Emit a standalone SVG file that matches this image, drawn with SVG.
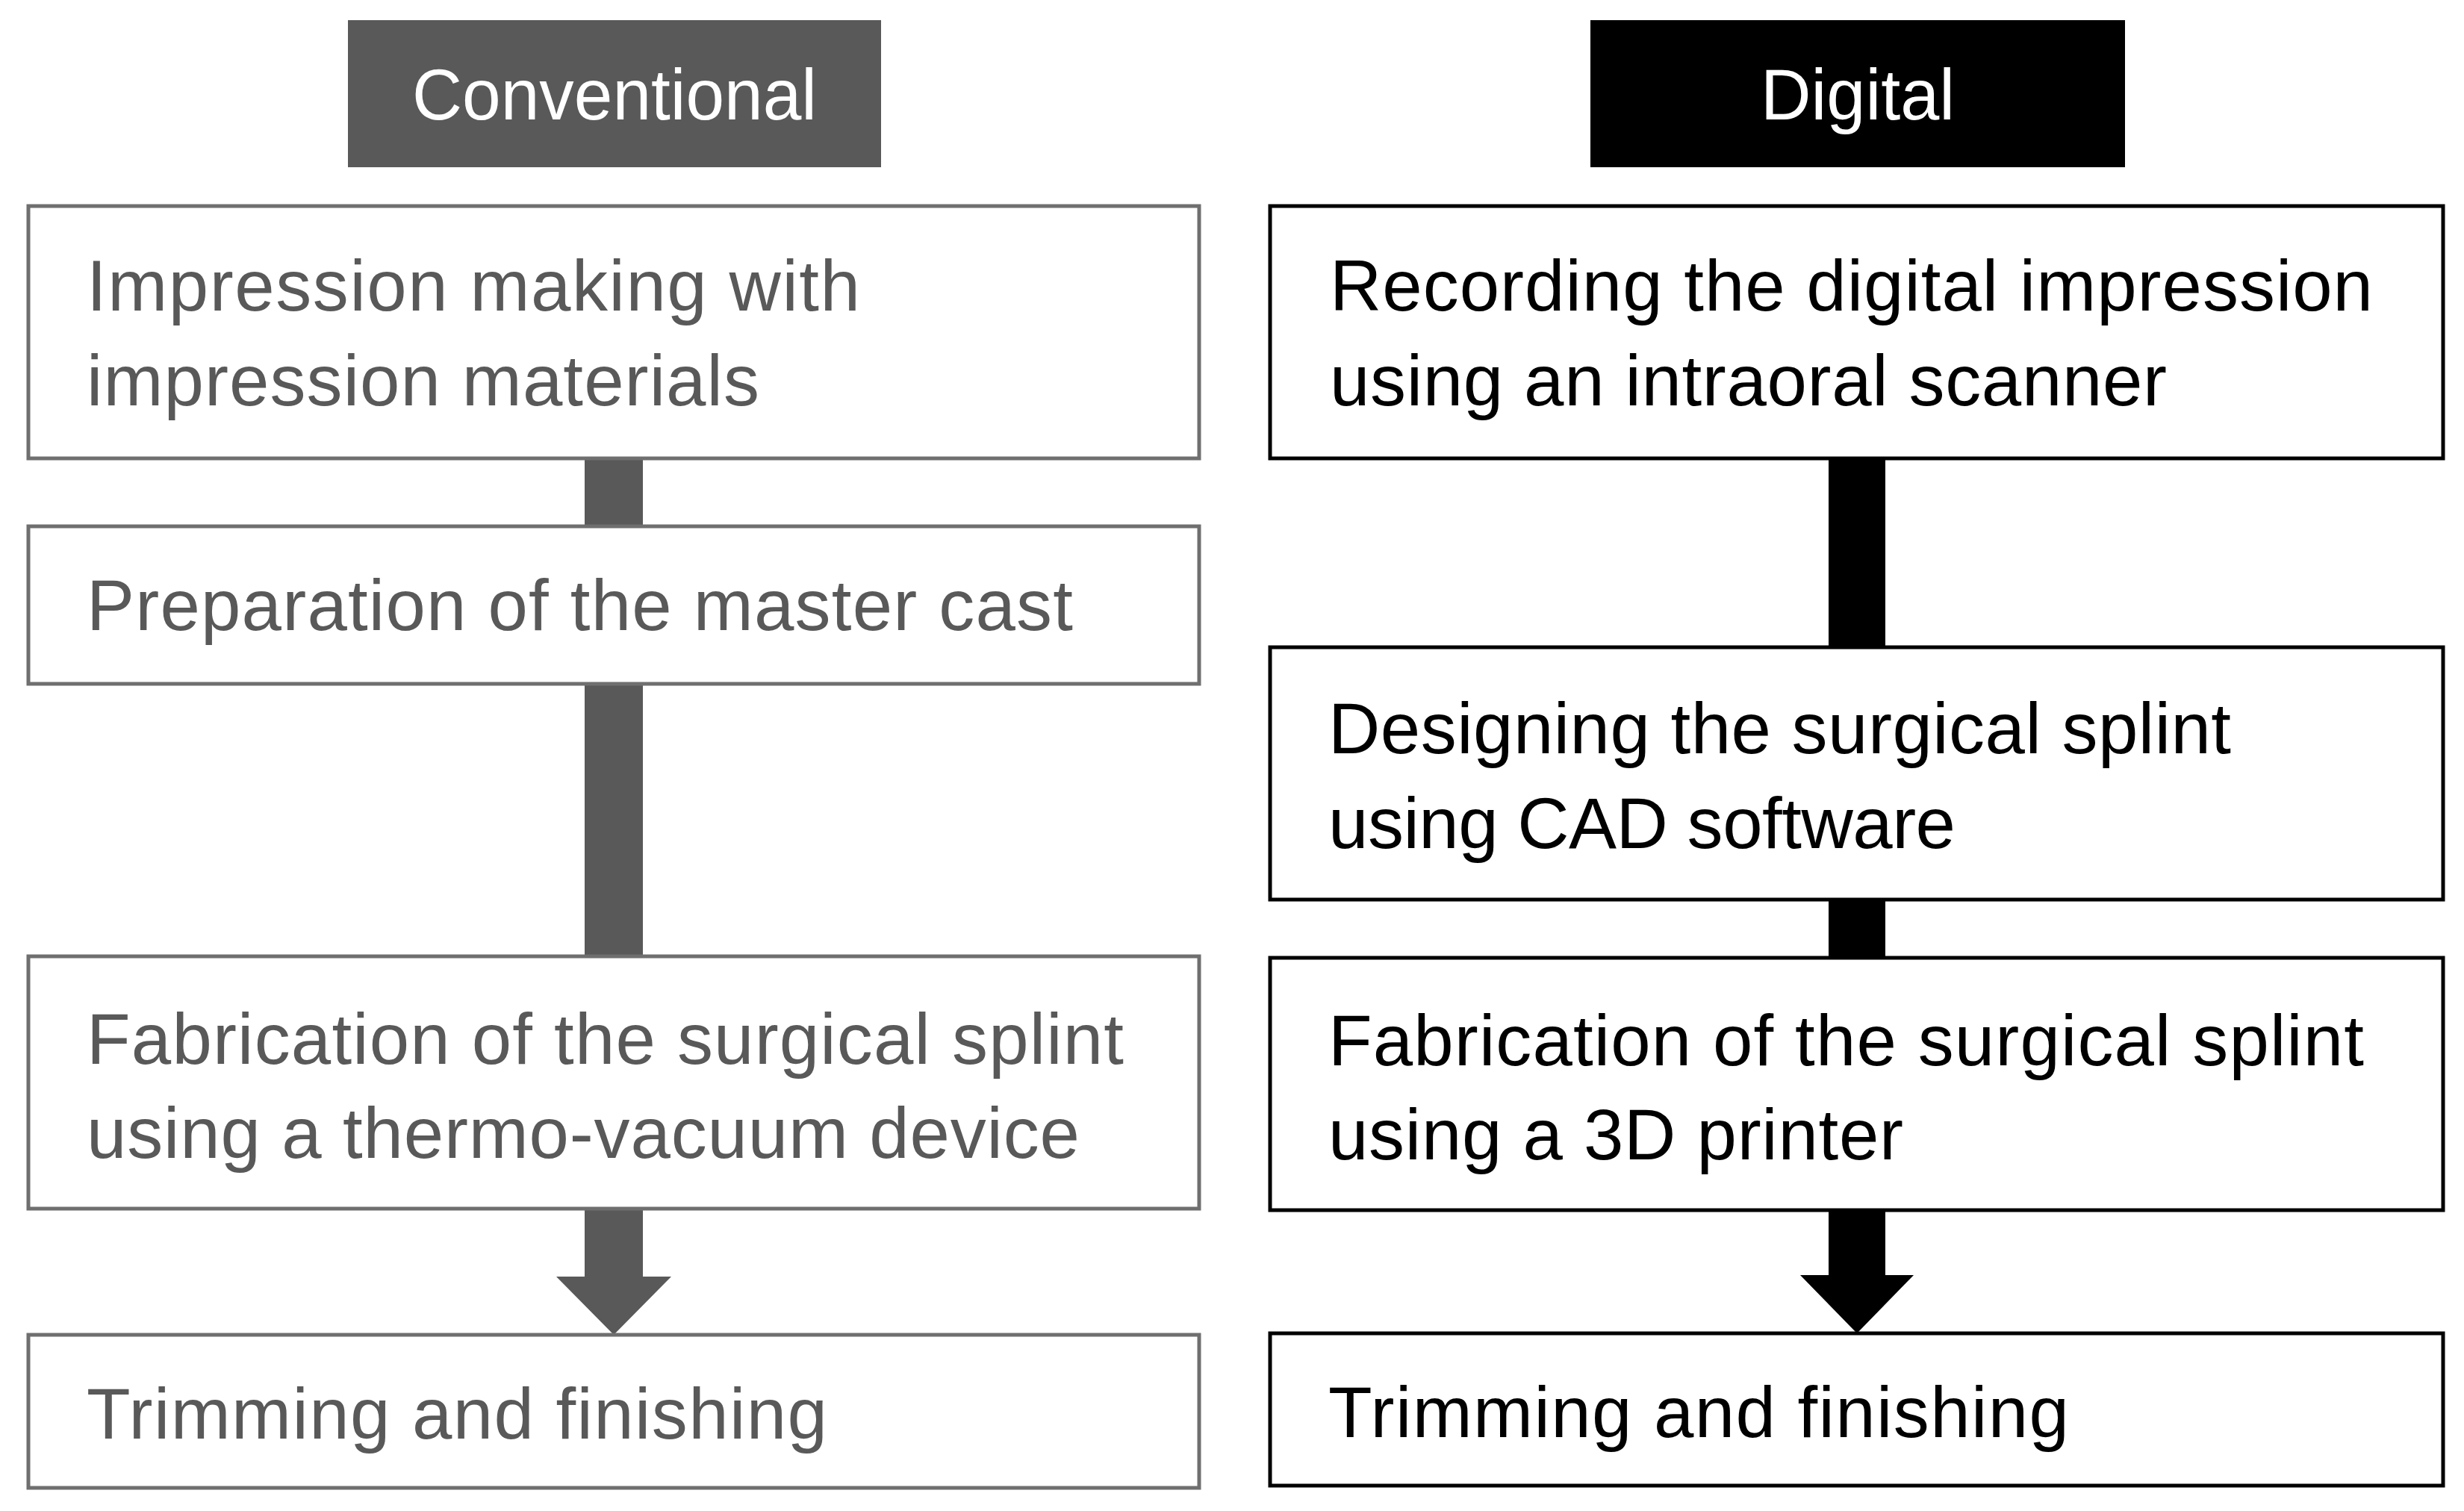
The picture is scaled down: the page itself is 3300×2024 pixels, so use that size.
<svg xmlns="http://www.w3.org/2000/svg" width="3300" height="2024" viewBox="0 0 3300 2024">
<style>
text{font-family:"Liberation Sans",Arial,sans-serif;font-size:96px}
.lb{fill:#fff;stroke:#6f6f6f;stroke-width:5}
.rb{fill:#fff;stroke:#000;stroke-width:5}
.lt{fill:#595959}
.rt{fill:#000}
.h{fill:#fff;text-anchor:middle}
</style>
<rect width="3300" height="2024" fill="#fff"/>
<g id="connectors">
<rect x="783" y="614" width="78" height="91" fill="#595959"/>
<rect x="783" y="916" width="78" height="365" fill="#595959"/>
<polygon points="783,1619 861,1619 861,1710 899,1710 822,1788 745,1710 783,1710" fill="#595959"/>
<rect x="2449" y="614" width="76" height="253" fill="#000"/>
<rect x="2449" y="1205" width="76" height="78" fill="#000"/>
<polygon points="2449,1621 2525,1621 2525,1708 2563,1708 2487,1786 2411,1708 2449,1708" fill="#000"/>
</g>
<g id="hdr-conv"><rect x="466" y="27" width="714" height="197" fill="#595959"/><text class="h" x="823" y="160" textLength="542" lengthAdjust="spacingAndGlyphs">Conventional</text></g>
<g id="hdr-dig"><rect x="2130" y="27" width="716" height="197" fill="#000"/><text class="h" x="2488" y="160" textLength="260" lengthAdjust="spacingAndGlyphs">Digital</text></g>
<g id="l1"><rect class="lb" x="38" y="276" width="1568" height="338"/><text class="lt" x="116" y="416" textLength="1036">Impression making with</text><text class="lt" x="116" y="543" textLength="901">impression materials</text></g>
<g id="l2"><rect class="lb" x="38" y="705" width="1568" height="211"/><text class="lt" x="116" y="844" textLength="1321">Preparation of the master cast</text></g>
<g id="l3"><rect class="lb" x="38" y="1281" width="1568" height="338"/><text class="lt" x="116" y="1425" textLength="1389">Fabrication of the surgical splint</text><text class="lt" x="116" y="1551" textLength="1330">using a thermo-vacuum device</text></g>
<g id="l4"><rect class="lb" x="38" y="1788" width="1568" height="205"/><text class="lt" x="116" y="1927" textLength="992">Trimming and finishing</text></g>
<g id="r1"><rect class="rb" x="1701" y="276" width="1571" height="338"/><text class="rt" x="1781" y="416" textLength="1397">Recording the digital impression</text><text class="rt" x="1781" y="543" textLength="1121">using an intraoral scanner</text></g>
<g id="r2"><rect class="rb" x="1701" y="867" width="1571" height="338"/><text class="rt" x="1779" y="1009" textLength="1209">Designing the surgical splint</text><text class="rt" x="1779" y="1136" textLength="840">using CAD software</text></g>
<g id="r3"><rect class="rb" x="1701" y="1283" width="1571" height="338"/><text class="rt" x="1779" y="1427" textLength="1387">Fabrication of the surgical splint</text><text class="rt" x="1779" y="1553" textLength="770">using a 3D printer</text></g>
<g id="r4"><rect class="rb" x="1701" y="1786" width="1571" height="204"/><text class="rt" x="1779" y="1925" textLength="992">Trimming and finishing</text></g>
</svg>
